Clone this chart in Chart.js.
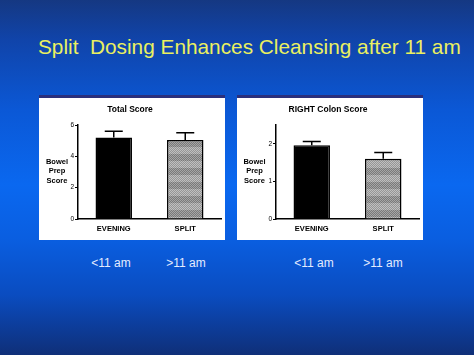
<!DOCTYPE html>
<html>
<head>
<meta charset="utf-8">
<script src="https://cdn.jsdelivr.net/npm/chart.js@4.4.1/dist/chart.umd.min.js"></script>
<style>
  html, body { margin: 0; padding: 0; }
  body {
    width: 474px; height: 355px; overflow: hidden; position: relative;
    font-family: "Liberation Sans", Arial, sans-serif;
    background: linear-gradient(to bottom, #153882 0px, #1044aa 40px, #0b58d6 110px, #0a68f0 185px, #0a5ee0 240px, #0a4cc0 295px, #0f2f78 355px);
  }
  #title {
    position: absolute; left: 38px; top: 35px; white-space: nowrap;
    font-size: 20.8px; color: #eaf060;
  }
  .panel {
    position: absolute; top: 98px; width: 186px; height: 142px; background: #fff;
  }
  .panel::before {
    content: ""; position: absolute; left: 0; right: 0; top: -3px; height: 3px; background: #2b2f7c;
  }
  .lbl { position: absolute; top: 256px; font-size: 12px; color: #e4ecff; transform: translateX(-50%); white-space: nowrap; }
</style>
</head>
<body>
<div id="title">Split&nbsp; Dosing Enhances Cleansing after 11 am</div>
<div class="panel" style="left:39px"><canvas id="c1" width="186" height="142"></canvas></div>
<div class="panel" style="left:237px"><canvas id="c2" width="186" height="142"></canvas></div>
<div class="lbl" style="left:111px">&lt;11 am</div>
<div class="lbl" style="left:186px">&gt;11 am</div>
<div class="lbl" style="left:314px">&lt;11 am</div>
<div class="lbl" style="left:383px">&gt;11 am</div>
<script>
// ---- data ----
const categories = ['EVENING', 'SPLIT'];
const totalMeans = [5.2, 5.05];
const totalErrors = [0.4, 0.45];
const rightMeans = [1.96, 1.6];
const rightErrors = [0.1, 0.17];
const totalTicks = [0, 2, 4, 6];
const rightTicks = [0, 1, 2];
const panelTitles = ['Total Score', 'RIGHT Colon Score'];
const yAxisTitle = ['Bowel', 'Prep', 'Score'];

function makePattern() {
  const c = document.createElement('canvas');
  c.width = 2; c.height = 14;
  const g = c.getContext('2d');
  for (let y = 0; y < 14; y++) {
    for (let x = 0; x < 2; x++) {
      const dark = y < 7;
      const odd = (x + y) % 2 === 0;
      g.fillStyle = dark ? (odd ? '#7a7a7a' : '#a6a6a6') : (odd ? '#969696' : '#c0c0c0');
      g.fillRect(x, y, 1, 1);
    }
  }
  return g.createPattern(c, 'repeat');
}

const errorBarPlugin = {
  id: 'errorBars',
  afterDatasetsDraw(chart, args, opts) {
    const ctx = chart.ctx;
    const meta = chart.getDatasetMeta(0);
    const ys = chart.scales.y;
    ctx.save();
    ctx.strokeStyle = '#000';
    ctx.lineWidth = 1.5;
    meta.data.forEach((bar, i) => {
      const v = chart.data.datasets[0].data[i];
      const e = opts.errors[i];
      const yTop = ys.getPixelForValue(v + e);
      ctx.beginPath();
      ctx.moveTo(bar.x, bar.y);
      ctx.lineTo(bar.x, yTop);
      ctx.moveTo(bar.x - 9, yTop);
      ctx.lineTo(bar.x + 9, yTop);
      ctx.stroke();
    });
    ctx.restore();
  }
};

const yTitlePlugin = {
  id: 'yTitle',
  afterDraw(chart, args, opts) {
    const ctx = chart.ctx;
    ctx.save();
    ctx.fillStyle = '#000';
    ctx.font = 'bold 7.5px "Liberation Sans", Arial, sans-serif';
    ctx.textAlign = 'center';
    ctx.textBaseline = 'middle';
    opts.lines.forEach((t, i) => ctx.fillText(t, opts.x, opts.y + i * 9.5));
    ctx.restore();
  }
};

function buildChart(id, title, means, errors, max, tickVals, axisX) {
  const pattern = makePattern();
  return new Chart(document.getElementById(id), {
    type: 'bar',
    data: {
      labels: categories,
      datasets: [{
        data: means,
        backgroundColor: ['#000000', pattern],
        borderColor: '#000',
        borderWidth: 1.5,
        barPercentage: 0.51,
        categoryPercentage: 1
      }]
    },
    plugins: [errorBarPlugin, yTitlePlugin],
    options: {
      responsive: false,
      animation: false,
      events: [],
      layout: { padding: { left: 0, right: 4, top: 0, bottom: 0 } },
      plugins: {
        legend: { display: false },
        tooltip: { enabled: false },
        title: {
          display: true, text: title, color: '#000',
          font: { family: '"Liberation Sans", Arial, sans-serif', size: 8.5, weight: 'bold', lineHeight: 1.2 },
          padding: { top: 7, bottom: 9.8 }
        },
        errorBars: { errors: errors },
        yTitle: { lines: yAxisTitle, x: axisX, y: 63.5 }
      },
      scales: {
        x: {
          grid: { display: false, drawTicks: false, tickLength: 0 },
          border: { display: true, color: '#000', width: 1.5 },
          ticks: { color: '#000', padding: 5, font: { family: '"Liberation Sans", Arial, sans-serif', size: 7.5, weight: 'bold' } },
          afterFit(s) { s.height = 21; }
        },
        y: {
          min: 0, max: max,
          grid: { display: true, drawOnChartArea: false, tickLength: 3, tickColor: '#000', tickWidth: 1 },
          border: { display: true, color: '#000', width: 1.5 },
          ticks: { color: '#000', padding: 1, font: { family: '"Liberation Sans", Arial, sans-serif', size: 6.5 } },
          afterBuildTicks(s) { s.ticks = tickVals.map(v => ({ value: v })); },
          afterFit(s) { s.width = 39; }
        }
      }
    }
  });
}

buildChart('c1', panelTitles[0], totalMeans, totalErrors, 6, totalTicks, 18);
buildChart('c2', panelTitles[1], rightMeans, rightErrors, 2.5, rightTicks, 17.5);
</script>
</body>
</html>
